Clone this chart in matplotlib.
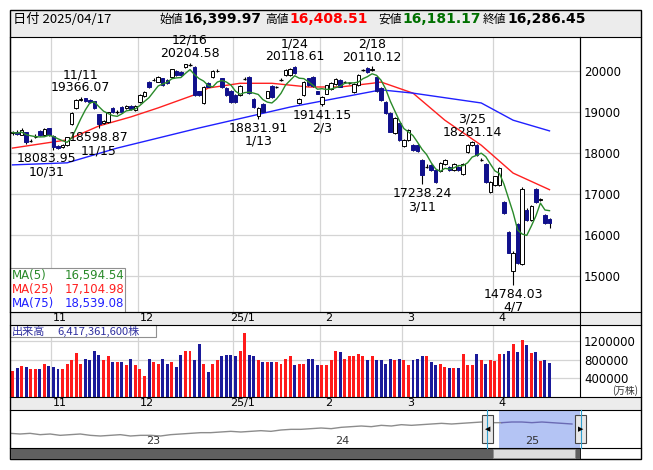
import matplotlib
matplotlib.use("Agg")
import matplotlib.pyplot as plt
import numpy as np
import pandas as pd
from matplotlib.patches import Rectangle

plt.rcParams['font.family'] = ['DejaVu Sans', 'Noto Sans CJK JP']
JP = ['Noto Sans CJK JP', 'DejaVu Sans']

opens = [18480,18520,18450,18500,18300,18380,18540,18430,18600,18420,
 18170,18150,18200,18700,19100,19300,19330,19300,19260,18950,
 18720,18750,19100,19000,19130,19100,19150,19050,19250,19380,
 19740,19770,19740,19820,19780,19850,20000,19980,20100,20150,
 20100,19500,19220,19700,19850,19990,19820,19590,19510,19415,
 19415,19810,19860,19320,18900,19200,19350,19630,19600,19780,
 19900,19900,20100,19210,19415,19820,19860,19500,19200,19450,
 19550,19690,19780,19720,19700,19490,19660,20020,20070,20020,
 19860,19580,19250,18970,18480,18720,18160,18320,18190,18190,
 17830,17660,17700,17580,17550,17720,17660,17580,17660,17490,
 18030,18200,18190,17830,17730,17050,17220,17220,16810,16080,
 15110,16280,15290,16610,16370,17130,16860,16490,16399.97]
closes = [18500,18470,18560,18260,18310,18400,18430,18580,18440,18150,
 18130,18200,18380,18980,19290,19320,19270,19250,19100,18700,
 18780,18990,18990,19010,19000,19150,19080,19150,19415,19495,
 19610,19790,19860,19660,19700,20040,19900,19900,20170,20160,
 19420,19420,19600,19620,20000,20010,19610,19415,19250,19250,
 19630,19820,19470,19130,19090,19010,19500,19370,19610,19790,
 20020,20060,19940,19310,19740,19650,19630,19450,19370,19650,
 19700,19800,19620,19730,19710,19690,19900,20030,19980,20060,
 19500,19290,18970,18520,18850,18320,18320,18560,18070,18040,
 17460,17670,17580,17300,17750,17830,17580,17730,17580,17730,
 18190,18270,17950,17840,17300,17300,17430,17630,16530,15570,
 15570,15310,17130,16370,16700,16810,16880,16290,16286.45]
highs = [18540,18560,18600,18510,18340,18460,18560,18600,18620,18430,
 18200,18230,18400,19000,19320,19366.07,19340,19320,19280,18960,
 18800,19000,19120,19050,19140,19180,19170,19170,19430,19520,
 19760,19820,19880,19840,19800,20060,20020,20000,20180,20204.58,
 20110,19520,19640,19720,20020,20040,19840,19600,19530,19430,
 19650,19860,19880,19340,19110,19220,19520,19650,19640,19820,
 20040,20080,20118.61,19330,19760,19840,19880,19520,19390,19670,
 19720,19820,19800,19760,19730,19700,19920,20050,20090,20110.12,
 19880,19600,19270,18990,18870,18740,18340,18580,18210,18210,
 17850,17720,17720,17600,17770,17850,17680,17750,17680,17750,
 18210,18281.14,18210,17880,17750,17320,17450,17650,16830,16100,
 15600,16300,17170,16650,16720,17150,16900,16510,16408.51]
lows = [18440,18440,18430,18230,18260,18370,18410,18410,18420,18083.95,
 18100,18120,18180,18680,19080,19280,19250,19230,19080,18598.87,
 18700,18730,18970,18950,18980,19080,19050,19030,19230,19360,
 19590,19750,19720,19640,19680,19830,19880,19880,20080,20130,
 19400,19380,19200,19600,19830,19970,19590,19390,19230,19230,
 19400,19790,19450,19100,18831.91,18990,19330,19350,19580,19760,
 19880,19880,19920,19190,19400,19630,19600,19430,19141.15,19430,
 19530,19670,19600,19700,19680,19470,19640,20000,19960,20000,
 19480,19270,18950,18500,18460,18300,18140,18300,18050,18020,
 17238.24,17640,17560,17280,17530,17700,17560,17560,17560,17470,
 18010,18180,17930,17810,17280,17030,17200,17200,16500,15550,
 14784.03,15290,15270,16350,16350,16790,16840,16270,16181.17]
volumes = [558,630,670,655,598,598,598,720,670,655,
 598,598,720,800,937,720,816,800,994,897,
 800,873,752,752,752,679,816,679,598,453,
 816,752,720,816,720,752,640,897,994,994,
 800,1139,720,533,720,800,873,913,897,873,
 994,1382,897,873,792,752,752,752,752,720,
 816,873,679,720,720,816,816,679,695,695,
 792,994,962,816,873,873,921,873,792,873,
 792,792,720,816,792,816,792,679,792,816,
 873,873,752,695,720,655,630,630,630,921,
 695,679,921,800,720,792,776,921,921,994,
 1139,962,1236,1123,937,962,776,792,735]
volumes = [v * 1000 for v in volumes]

month_idx = [9, 28, 49, 68, 86, 106]
month_labels = ["11", "12", "25/1", "2", "3", "4"]

ma25_idx = [0, 12, 19, 26, 32, 41, 43, 50, 57, 65, 72, 79, 81, 88, 95, 103, 110, 118]
ma25_val = [18120, 18320, 18660, 18880, 19100, 19460, 19585, 19700, 19700, 19610, 19610, 19700, 19730, 19460, 18800, 18190, 17510, 17104.98]
ma75_idx = [0, 12, 23, 41, 61, 81, 88, 103, 110, 118]
ma75_val = [17710, 17760, 18120, 18610, 19120, 19540, 19460, 19220, 18800, 18539.08]

ann_idx = [9, 15, 19, 39, 54, 62, 68, 79, 90, 101, 110]
ann_dates = ["10/31", "11/11", "11/15", "12/16", "1/13", "1/24", "2/3", "2/18", "3/11", "3/25", "4/7"]
ann_high = [False, True, False, True, False, True, False, True, False, True, False]
ann_dx = [-1.5, 0, 0, 0, 0, 0, 0, 0, 0, 0, 0]

nav_vals = [30,29,30,28,29,27,28,29,27,26,27,28,26,27,27,26,28,29,30,31,31,32,33,32,33,34,33,35,36,36,
            37,38,37,39,40,41,40,42,41,43,42,43,44,45,44,45,46,47,46,46,47,47,46,47,46,45,44]
nav_labels = ["23", "24", "25"]
nav_label_x = [153, 342, 532]

W, H = 653, 470
fig = plt.figure(figsize=(W/100, H/100), dpi=100)

def fr(x0, y0, x1, y1):
    return [x0/W, 1 - y1/H, (x1-x0)/W, (y1-y0)/H]

bg = fig.add_axes([0, 0, 1, 1], zorder=-5)
bg.set_xlim(0, W); bg.set_ylim(H, 0); bg.axis('off')
gray = '#ececec'
for (x0, y0, x1, y1) in [(10, 10, 641, 37), (10, 312, 641, 325), (10, 397, 641, 410)]:
    bg.add_patch(Rectangle((x0, y0), x1-x0, y1-y0, color=gray, lw=0))

n = len(closes)
x = np.arange(n)
xlim = (-0.55, 124.7)
up = np.array(closes) >= np.array(opens)
navy = '#10108c'

ax = fig.add_axes(fr(10, 37, 580, 312))
ax.set_xlim(*xlim); ax.set_ylim(14122, 20829)
for y in [15000, 16000, 17000, 18000, 19000, 20000]:
    ax.axhline(y, color='#d4d4d4', lw=0.9, zorder=0)
for m in month_idx:
    ax.axvline(m - 0.5, color='#d4d4d4', lw=0.9, zorder=0)
for i in range(n):
    ax.vlines(i, lows[i], highs[i], color='black', lw=0.8, zorder=2)
    b0, b1 = min(opens[i], closes[i]), max(opens[i], closes[i])
    if b1 - b0 < 15:
        ax.hlines(opens[i], i-0.38, i+0.38, color='black', lw=0.9, zorder=3)
    elif up[i]:
        ax.add_patch(Rectangle((i-0.38, b0), 0.76, b1-b0, facecolor='white', edgecolor='black', lw=0.7, zorder=3))
    else:
        ax.add_patch(Rectangle((i-0.38, b0), 0.76, b1-b0, facecolor=navy, edgecolor=navy, lw=0.7, zorder=3))
ma5 = pd.Series(closes).rolling(5, min_periods=1).mean()
ax.plot(x, ma5, color='#2a8a2a', lw=1.0, zorder=4)
ax.plot(ma25_idx, ma25_val, color='#ff2020', lw=1.0, zorder=1)
ax.plot(ma75_idx, ma75_val, color='#2020ff', lw=1.0, zorder=1)
for k, i in enumerate(ann_idx):
    xi = i + ann_dx[k]
    if ann_high[k]:
        ax.annotate(f"{ann_dates[k]}\n{highs[i]:.2f}", (xi, highs[i]), xytext=(0, 2), textcoords='offset points',
                    ha='center', va='bottom', fontsize=9, linespacing=1.0, zorder=6)
    else:
        ax.annotate(f"{lows[i]:.2f}\n{ann_dates[k]}", (xi, lows[i]), xytext=(0, -2), textcoords='offset points',
                    ha='center', va='top', fontsize=9, linespacing=1.0, zorder=6)
ax.yaxis.tick_right()
ax.set_yticks([15000, 16000, 17000, 18000, 19000, 20000])
ax.set_xticks([m + 1.5 for m in month_idx])
ax.set_xticklabels(month_labels)
ax.tick_params(length=0, labelsize=8.5, pad=3)
ax.tick_params(axis='x', pad=1, labelsize=8)
for s in ax.spines.values():
    s.set_color('black'); s.set_linewidth(0.8)
ax.spines['top'].set_visible(False)

leg = [("MA(5)", "16,594.54", '#2a8a2a'), ("MA(25)", "17,104.98", '#ff2020'), ("MA(75)", "18,539.08", '#2020ff')]
bg2 = fig.add_axes([0, 0, 1, 1], zorder=10)
bg2.set_xlim(0, W); bg2.set_ylim(H, 0); bg2.axis('off')
bg2.add_patch(Rectangle((10, 268), 115, 44, facecolor='white', edgecolor='#909090', lw=0.8))
for k, (a, b, c) in enumerate(leg):
    yy = 275 + k * 14.3
    bg2.text(12, yy, a, color=c, fontsize=8.5, va='center')
    bg2.text(124, yy, b, color=c, fontsize=8.5, va='center', ha='right')
bg2.add_patch(Rectangle((10, 325), 146, 12, facecolor='white', edgecolor='#909090', lw=0.8))
bg2.text(12, 331.5, "出来高", color='#3030a0', fontsize=8, va='center', family=JP)
bg2.text(57, 331.5, "6,417,361,600株", color='#3030a0', fontsize=8, va='center', family=JP)
bg2.text(625, 391, "(万株)", fontsize=7, va='center', ha='center', color='#333333', family=JP)
bg2.text(13, 19, "日付 2025/04/17", fontsize=9.5, va='center', family=JP)
hdr = [(159, "始値", "16,399.97", 'black'), (265, "高値", "16,408.51", '#ff0000'),
       (378, "安値", "16,181.17", '#007000'), (483, "終値", "16,286.45", 'black')]
for (hx, lab, val, c) in hdr:
    bg2.text(hx, 19, lab, fontsize=8.5, va='center', family=JP)
    bg2.text(hx + 24, 19, val, fontsize=10, va='center', color=c, fontweight='bold')
bg2.add_patch(Rectangle((10, 10), 631, 449, fill=False, edgecolor='black', lw=1))
for yy in [37, 312, 325, 397, 410, 448]:
    bg2.plot([10, 641], [yy, yy], color='black', lw=0.8)
bg2.plot([580, 580], [37, 397], color='black', lw=0.8)

av = fig.add_axes(fr(10, 325, 580, 397))
av.set_xlim(*xlim); av.set_ylim(0, 1550000)
for y in [400000, 800000, 1200000]:
    av.axhline(y, color='#d4d4d4', lw=0.9, zorder=0)
for m in month_idx:
    av.axvline(m - 0.5, color='#d4d4d4', lw=0.9, zorder=0)
av.bar(x, volumes, width=0.65, color=['#ff1a1a' if u else '#1a1a9a' for u in up], zorder=2)
av.yaxis.tick_right()
av.set_yticks([400000, 800000, 1200000])
av.set_yticklabels(["400000", "800000", "1200000"])
av.set_xticks([m + 1.5 for m in month_idx])
av.set_xticklabels(month_labels)
av.tick_params(length=0, labelsize=8.5, pad=3)
av.tick_params(axis='x', pad=1, labelsize=8)
for s in av.spines.values():
    s.set_visible(False)

an = fig.add_axes(fr(10, 410, 580, 448))
an.set_xlim(0, len(nav_vals) - 1 + 0.8); an.set_ylim(8, 65)
an.axis('off')
cut = 49
an.axvspan(cut - 0.3, len(nav_vals) - 1 + 0.8, color='#b4c4f4', lw=0)
an.plot(range(cut + 1), nav_vals[:cut + 1], color='#8c8c8c', lw=1)
an.plot(range(cut, len(nav_vals)), nav_vals[cut:], color='#6a6ab4', lw=1)
for lab, lx in zip(nav_labels, nav_label_x):
    bg2.text(lx, 441, lab, fontsize=8, ha='center', va='center', color='#333333')
for hx, sym in [(482, '◀'), (575, '▶')]:
    bg2.add_patch(Rectangle((hx, 415), 11, 28, facecolor='#e8e8e8', edgecolor='#444444', lw=0.8))
    bg2.text(hx + 5.5, 429, sym, fontsize=5, ha='center', va='center')
bg2.plot([487, 487], [410, 448], color='#30a0d0', lw=0.8)
bg2.plot([581, 581], [410, 448], color='#30a0d0', lw=0.8)
bg2.add_patch(Rectangle((10, 448), 570, 11, facecolor='#606060', edgecolor='black', lw=0.6))
bg2.add_patch(Rectangle((493, 449), 82, 9, facecolor='#dcdcdc', edgecolor='#909090', lw=0.6))

fig.savefig("out.png", dpi=100)
